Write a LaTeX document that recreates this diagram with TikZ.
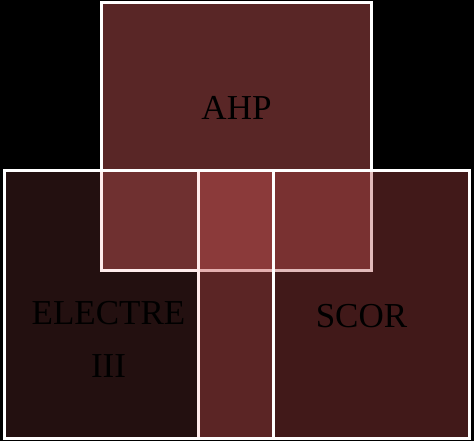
\documentclass[tikz,border=0pt]{standalone}
\usepackage{fontspec}
\setmainfont{Liberation Serif}
\usepackage{xcolor}
\usepackage{tikz}
\definecolor{ahpred}{RGB}{89,38,38}
\definecolor{scorred}{RGB}{178,68,68}
\definecolor{electrered}{RGB}{255,118,118}
\tikzset{
  setbox/.style={rectangle,draw=white,line width=3pt,inner sep=0pt},
  setlabel/.style={text=black,font=\fontsize{35}{53}\selectfont,inner sep=0pt}
}

\begin{document}
\begin{tikzpicture}[x=1pt,y=-1pt]
  \fill[black] (0,0) rectangle (474,441);
  \useasboundingbox (0,0) rectangle (474,441);
  \node[setbox,fill=ahpred,minimum width=270.5pt,minimum height=267pt] (AHP) at (236.25,136.5) {};
  \node[setbox,fill=scorred,fill opacity=0.37,minimum width=270.5pt,minimum height=267.5pt] (SCOR) at (333.75,304.25) {};
  \node[setbox,fill=electrered,fill opacity=0.136,minimum width=269pt,minimum height=267.5pt] (ELECTRE) at (139,304.25) {};
  \node[setlabel,anchor=base] (AHPlabel) at (236.5,120) {AHP};
  \node[setlabel,align=center] (ELECTRElabel) at (108.5,339.5) {ELECTRE\\III};
  \node[setlabel,anchor=base] (SCORlabel) at (361.5,327) {SCOR};
\end{tikzpicture}
\end{document}
